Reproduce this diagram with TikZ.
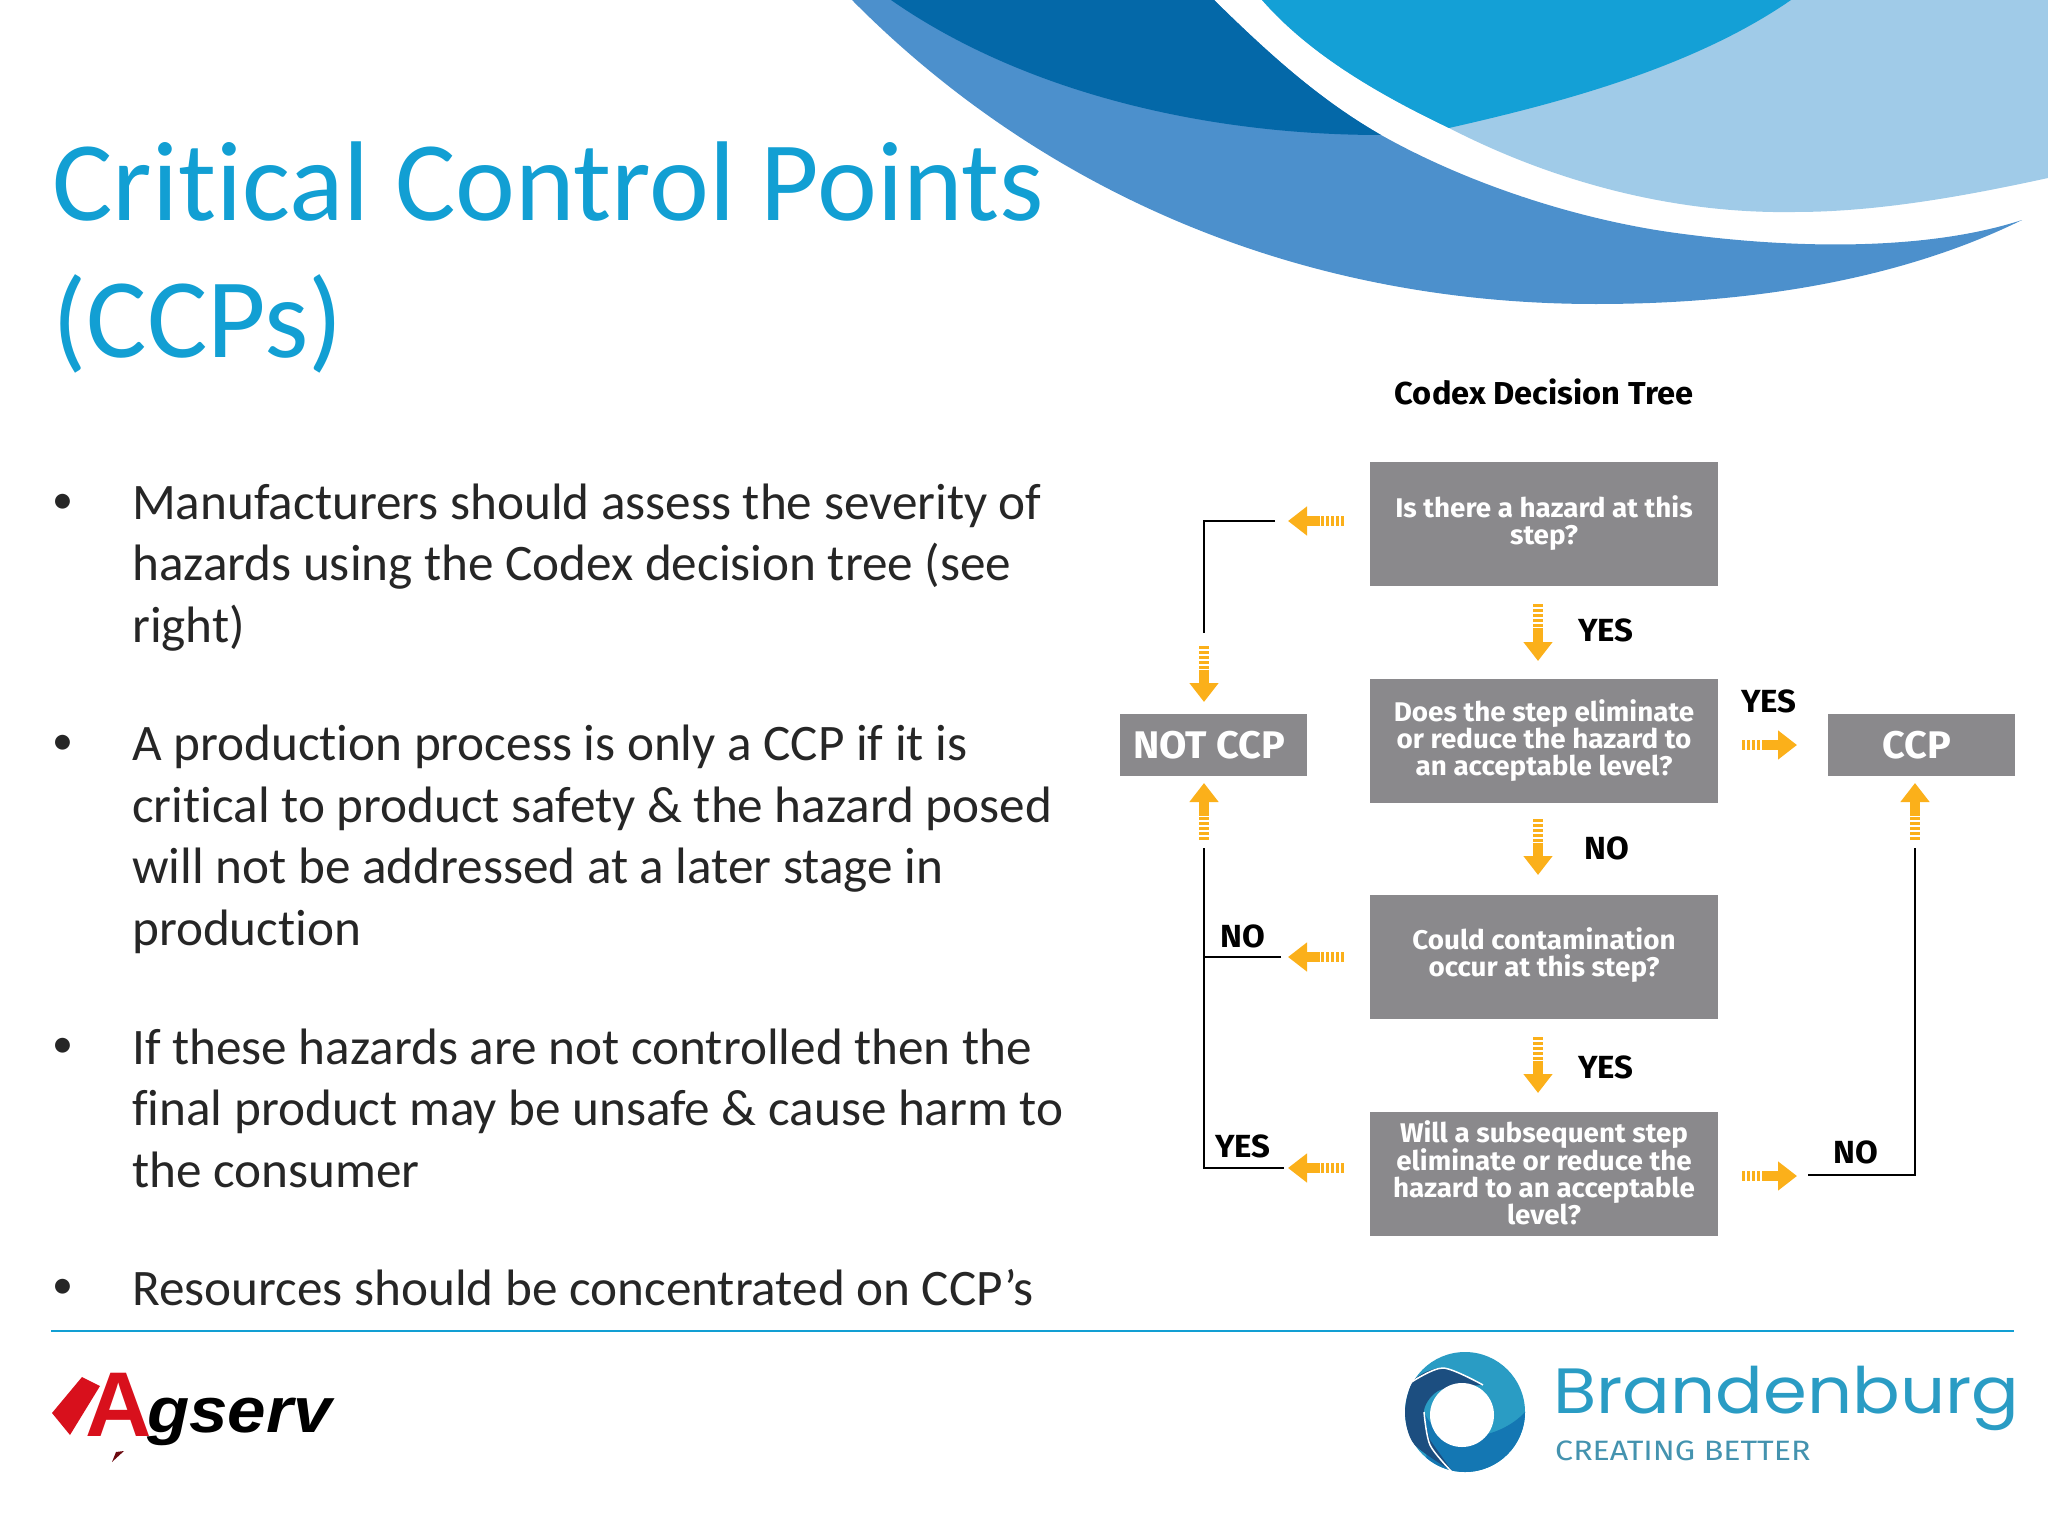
\documentclass[tikz,border=0pt]{standalone}
\usepackage{fontspec}
\setmainfont[Ligatures=NoCommon]{Carlito}
\newfontfamily\dinfont[FakeStretch=1.03]{Fira Sans}
\newfontfamily\betterfont[FakeStretch=1.15]{Fira Sans}
\newfontfamily\logofont[FakeStretch=1.103]{Poppins}
\newfontfamily\agfont{Liberation Sans}
\newfontfamily\agwidefont[FakeStretch=1.08]{Liberation Sans}
\usetikzlibrary{arrows.meta,calc,positioning}
\definecolor{titleblue}{HTML}{129FD3}
\definecolor{bodygrey}{HTML}{262626}
\definecolor{boxgrey}{HTML}{8A898C}
\definecolor{arrowyellow}{HTML}{FBB01A}
\definecolor{swmid}{HTML}{4C90CC}
\definecolor{swdark}{HTML}{0468A8}
\definecolor{swcyan}{HTML}{14A0D6}
\definecolor{swlight}{HTML}{A0CBE8}
\definecolor{brandblue}{HTML}{2A9CC4}
\definecolor{branddark}{HTML}{1C4E80}
\definecolor{brandmid}{HTML}{1477B3}
\definecolor{agred}{HTML}{D8101C}
\tikzset{
  titletext/.style={anchor=base west,align=left,text=titleblue,inner sep=0pt,font=\fontsize{113.4}{137}\selectfont},
  bodytext/.style={anchor=base west,align=left,text=bodygrey,inner sep=0pt,font=\fontsize{51.2}{61.4}\selectfont},
  dotmark/.style={anchor=base west,text=bodygrey,inner sep=0pt,font=\fontsize{42}{42}\selectfont},
  treebox/.style={fill=boxgrey,text=white,align=center,inner sep=0pt,minimum width=348pt,minimum height=124pt,font=\dinfont\bfseries\fontsize{27}{27}\selectfont},
  endbox/.style={fill=boxgrey,text=white,inner sep=0pt,minimum width=187pt,minimum height=62pt,font=\dinfont\bfseries\fontsize{38.5}{40}\selectfont},
  answer/.style={inner sep=0pt,text=black,font=\dinfont\bfseries\fontsize{32}{34}\selectfont},
  treeline/.style={draw=black,line width=2pt},
}
% striped tail, then a solid shaft with its head
\newcommand{\yarrow}[2]{%
  \draw[arrowyellow,line width=10pt,dash pattern=on 3pt off 2pt] (#1) -- ($(#1)!.42!(#2)$);
  \draw[arrowyellow,line width=10pt,-{Triangle[length=19pt,width=28pt]}] ($(#1)!.42!(#2)$) -- (#2);
}
\begin{document}
\begin{tikzpicture}[x=1pt,y=-1pt]
\useasboundingbox (0,0) rectangle (2048,1536);

% swoosh
\fill[swmid] (852,0) .. controls (1020,170) and (1270,304) .. (1596,304) .. controls (1750,304) and (1900,280) .. (2022,220)
  .. controls (1930,250) and (1800,250) .. (1676,233) .. controls (1580,220) and (1470,185) .. (1381,135) .. controls (1320,100) and (1270,55) .. (1214,0) -- cycle;
\fill[swdark] (891,0) .. controls (1020,90) and (1200,135) .. (1381,135) .. controls (1320,100) and (1270,55) .. (1214,0) -- cycle;
\fill[swlight] (1262,0) .. controls (1310,55) and (1380,95) .. (1449,128) .. controls (1560,185) and (1680,214) .. (1795,212) .. controls (1880,212) and (1970,195) .. (2048,178) -- (2048,0) -- cycle;
\fill[swcyan] (1262,0) .. controls (1310,55) and (1380,95) .. (1449,128) .. controls (1550,105) and (1690,70) .. (1791,0) -- cycle;

% title and bullets
\node[titletext] (title) at (52,357) {Critical Control Points\\(CCPs)};
\node[dotmark] (dot1) at (52,513) {•};
\node[bodytext] (point1) at (132,642) {Manufacturers should assess the severity of\\hazards using the Codex decision tree (see\\right)};
\node[dotmark] (dot2) at (52,754) {•};
\node[bodytext] (point2) at (132,945) {A production process is only a CCP if it is\\critical to product safety \& the hazard posed\\will not be addressed at a later stage in\\production};
\node[dotmark] (dot3) at (52,1057) {•};
\node[bodytext] (point3) at (132,1187) {If these hazards are not controlled then the\\final product may be unsafe \& cause harm to\\the consumer};
\node[dotmark] (dot4) at (52,1298) {•};
\node[bodytext] (point4) at (132,1305) {Resources should be concentrated on CCP’s};

% decision tree
\node[inner sep=0pt,font=\dinfont\bfseries\fontsize{31.7}{32}\selectfont] (treetitle) at (1544,392) {Codex Decision Tree};
\node[treebox] (hazard) at (1544,524) {Is there a hazard at this\\step?\\[-19pt]};
\node[treebox] (reduce) at (1544,741) {Does the step eliminate\\or reduce the hazard to\\an acceptable level?\\[-21pt]};
\node[treebox] (contam) at (1544,957) {Could contamination\\occur at this step?\\[-17pt]};
\node[treebox] (later) at (1544,1174) {Will a subsequent step\\eliminate or reduce the\\hazard to an acceptable\\level?\\[-24pt]};
\node[endbox] (notccp) at (1213,745) {NOT CCP\kern8pt};
\node[endbox] (ccp) at (1921,745) {CCP\kern8pt};

\node[answer] (yes1) at (1606,630) {YES};
\node[answer] (yes2) at (1769,701) {YES};
\node[answer] (no1) at (1607,848) {NO};
\node[answer] (yes3) at (1606,1067) {YES};
\node[answer] (no2) at (1243,936) {NO};
\node[answer] (yes4) at (1243,1146) {YES};
\node[answer] (no3) at (1856,1152) {NO};

% yellow arrows
\coordinate (h1) at (1344,521); \coordinate (h2) at (1288,521);
\coordinate (v1) at (1204,646); \coordinate (v2) at (1204,702);
\coordinate (u1) at (1204,840); \coordinate (u2) at (1204,783);
\coordinate (w1) at (1915,840); \coordinate (w2) at (1915,783);
\coordinate (d1) at (1538,604); \coordinate (d2) at (1538,661);
\coordinate (e1) at (1538,819); \coordinate (e2) at (1538,875);
\coordinate (f1) at (1538,1037); \coordinate (f2) at (1538,1093);
\coordinate (r1) at (1742,745); \coordinate (r2) at (1797,745);
\coordinate (s1) at (1742,1176); \coordinate (s2) at (1797,1176);
\coordinate (l1) at (1344,957); \coordinate (l2) at (1288,957);
\coordinate (m1) at (1344,1168); \coordinate (m2) at (1288,1168);
\yarrow{h1}{h2}
\yarrow{v1}{v2}
\yarrow{u1}{u2}
\yarrow{w1}{w2}
\yarrow{d1}{d2}
\yarrow{e1}{e2}
\yarrow{f1}{f2}
\yarrow{r1}{r2}
\yarrow{s1}{s2}
\yarrow{l1}{l2}
\yarrow{m1}{m2}

% black lines
\coordinate (topend) at (1275,521); \coordinate (topfoot) at (1204,633);
\coordinate (leftup) at (1204,848); \coordinate (leftno) at (1281,957); \coordinate (leftyes) at (1284,1168);
\coordinate (rightno) at (1808,1175); \coordinate (rightup) at (1915,848);
\draw[treeline] (topend) -| (topfoot);
\draw[treeline] (leftup) |- (leftyes);
\draw[treeline] (leftno) -- (leftno -| leftup);
\draw[treeline] (rightno) -| (rightup);

% footer
\coordinate (footl) at (51,1331); \coordinate (footr) at (2014,1331);
\draw[titleblue,line width=2pt] (footl) -- (footr);

% agserv logo
\fill[agred] (52,1413) -- (82,1377) -- (100,1386) -- (70,1435) -- cycle;
\node[inner sep=0pt,anchor=base,text=agred,font=\agfont\bfseries\fontsize{92}{92}\selectfont] (aga) at (119,1436) {A};
\fill[black!50!agred] (112,1462) -- (116,1452) -- (124,1451) -- cycle;
\node[inner sep=0pt,anchor=base west,text=black,font=\agwidefont\bfseries\itshape\fontsize{64}{64}\selectfont] (agserv) at (147,1432) {gserv};

% brandenburg logo
\fill[brandblue] (1465,1412) circle[radius=60pt];
\fill[brandmid] (1424,1412) .. controls (1440,1450) and (1500,1440) .. (1525,1412) arc[start angle=0,end angle=-130,radius=60pt] -- cycle;
\fill[branddark] plot[smooth] coordinates {(1483,1385) (1443,1368) (1414,1380) (1405,1412) (1414,1444) (1452,1471)}
  -- plot[smooth] coordinates {(1430,1440) (1424,1410) (1440,1390) (1483,1385)} -- cycle;
\fill[white] (1462,1415) circle[radius=32pt];
\draw[white,line width=1.5pt] plot[smooth] coordinates {(1410,1383) (1443,1368) (1483,1385)};
\draw[white,line width=1.5pt] plot[smooth] coordinates {(1452,1472) (1430,1445) (1424,1412)};
\node[inner sep=0pt,anchor=base west,text=brandblue,font=\logofont\fontsize{64}{64}\selectfont] (brand) at (1553,1413) {Brandenburg};
\node[inner sep=0pt,anchor=base west,text=brandblue!70!gray,font=\betterfont\fontsize{28}{30}\selectfont] (better) at (1555,1460) {CREATING BETTER};
\end{tikzpicture}
\end{document}
